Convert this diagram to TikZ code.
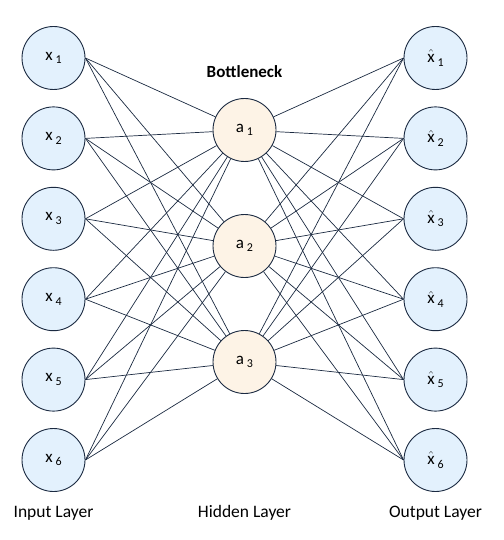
\documentclass[tikz,border=0pt]{standalone}
\usepackage{fontspec}
\setmainfont{Carlito}
\usepackage{tikz}
\usetikzlibrary{calc}
\definecolor{edgecol}{HTML}{1B2A41}
\definecolor{inblue}{HTML}{E3F1FD}
\definecolor{hidcream}{HTML}{FDF3E6}
\newcommand{\sub}[2]{#1\,\raisebox{-0.45ex}{\fontsize{12}{14}\selectfont #2}}
\newcommand{\hatx}{$\hat{\mbox{x}}$}

\begin{document}
\begin{tikzpicture}[x=1pt, y=-1pt, every node/.style={font=\fontsize{17.5}{20}\selectfont},
    unit/.style={circle, draw=edgecol, line width=0.9pt, minimum size=63pt, inner sep=0pt,
        font=\fontsize{17}{20}\selectfont},
    conn/.style={draw=edgecol, line width=0.7pt}]
    \useasboundingbox (0,0) rectangle (503,540);

    % input and output layers
    \foreach \i/\y in {1/58,2/138.4,3/218.8,4/299.2,5/379.6,6/460}{
        \node[unit, fill=inblue] (x\i) at (53.5,\y) {\sub{x}{\i}};
        \node[unit, fill=inblue] (y\i) at (435.5,\y) {\sub{\hatx}{\i}};
    }
    % bottleneck
    \foreach \j/\y in {1/130,2/246,3/362}
        \node[unit, fill=hidcream] (a\j) at (244.5,\y) {\sub{a}{\j}};

    \foreach \i in {1,...,6}
        \foreach \j in {1,2,3}{
            \draw[conn] (x\i.east) -- (a\j);
            \draw[conn] (a\j) -- (y\i.west);
        }

    \node[font=\fontsize{17}{20}\selectfont\bfseries] (bn) at (244.5,72) {Bottleneck};
    \node (inl) at (53.5,513) {Input Layer};
    \node (hidl) at (244.5,513) {Hidden Layer};
    \node (outl) at (435.5,513) {Output Layer};
\end{tikzpicture}
\end{document}
